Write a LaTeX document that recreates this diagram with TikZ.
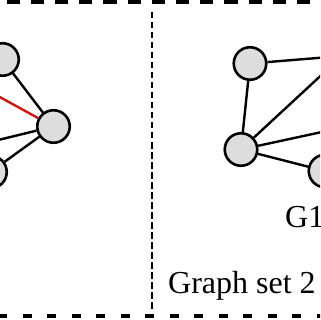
\documentclass[tikz,border=0pt]{standalone}
\usepackage{fontspec}
\setmainfont{Liberation Serif}
\usetikzlibrary{positioning}

\begin{document}
\begin{tikzpicture}[
    x=1pt, y=-1pt,
    vertex/.style={circle, draw, line width=2.6pt, fill={rgb,255:red,221;green,221;blue,221}, minimum size=32.5pt, inner sep=0pt},
    edge/.style={line width=2.4pt},
    redge/.style={line width=2.4pt, draw={rgb,255:red,210;green,20;blue,20}},
    label/.style={anchor=base west, inner sep=0pt, font=\fontsize{32}{38}\selectfont}
  ]
    \useasboundingbox (0,0) rectangle (320,320);
    \clip (0,0) rectangle (320,320);

    \draw[line width=4.5pt, dash pattern=on 13.3pt off 10.9pt] (6.5,1.8) -- (330,1.8);
    \draw[line width=4.5pt, dash pattern=on 9pt off 15.5pt] (-2,316.2) -- (330,316.2);
    \draw[line width=2pt, dash pattern=on 6.5pt off 3.5pt] (152,12) -- (152,310);

    \node[vertex] (a) at (2.5,59.5) {};
    \node[vertex] (b) at (53.5,126.5) {};
    \node[vertex] (c) at (-9.5,172) {};
    \node[vertex] (p) at (-55,67) {};
    \node[vertex] (q) at (-55,153) {};

    \node[vertex] (d) at (250,63.5) {};
    \node[vertex] (e) at (241,149.5) {};
    \node[vertex] (f) at (325,171) {};
    \node[vertex] (g) at (342,56) {};
    \node[vertex] (h) at (345,127) {};

    \draw[edge] (a) -- (b);
    \draw[redge] (p) -- (b);
    \draw[edge] (q) -- (b);
    \draw[edge] (c) -- (b);

    \draw[edge] (d) -- (e);
    \draw[edge] (d) -- (g);
    \draw[edge] (e) -- (g);
    \draw[edge] (e) -- (h);
    \draw[edge] (e) -- (f);

    \node[label] (g1) at (285,227) {G1};
    \node[label] (set) at (168,293) {Graph set 2};
  \end{tikzpicture}
\end{document}
